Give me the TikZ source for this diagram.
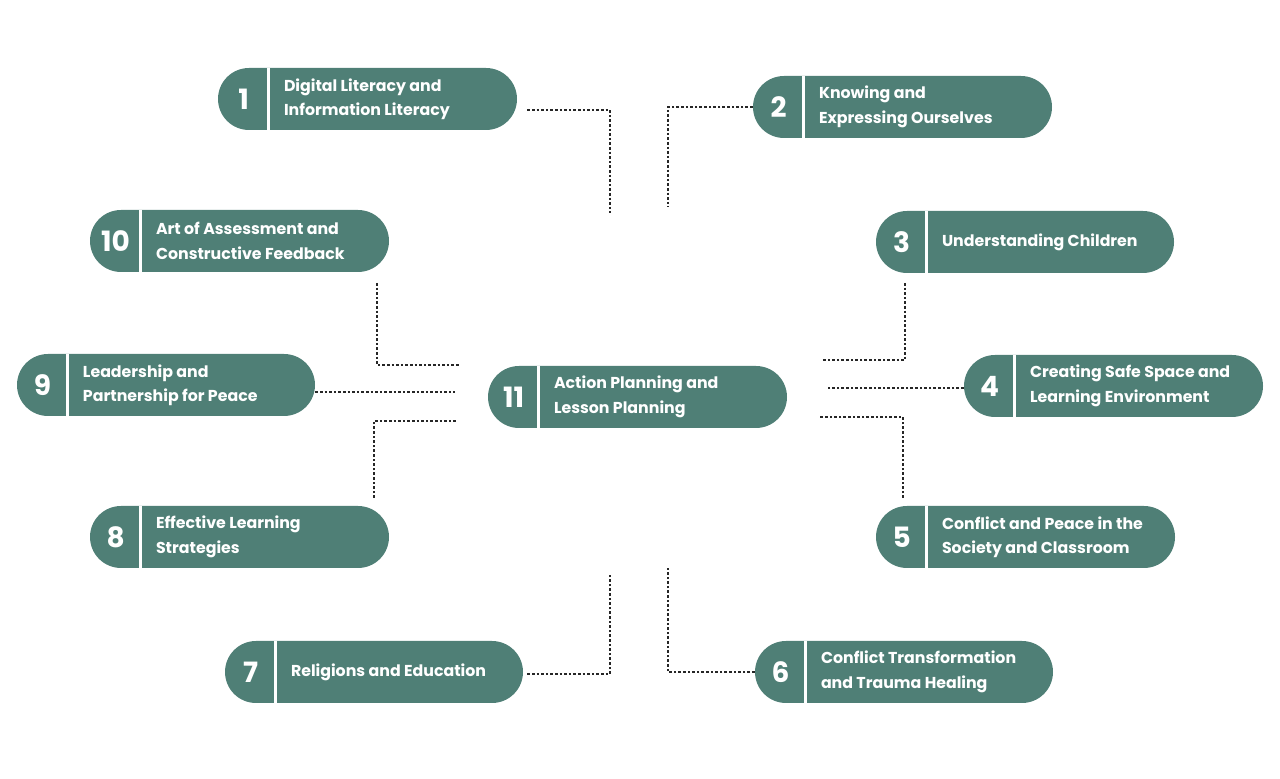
\documentclass[tikz,border=0pt]{standalone}
\usepackage{fontspec}
\setmainfont{Poppins}
\usetikzlibrary{positioning}
\definecolor{teal}{HTML}{4F7F76}
% one topic pill: name, left, top, right, number, text
\newcommand{\topic}[6]{%
  \node [pill, minimum width={(#4-#2)*0.5pt}] (#1) at ({(#2+#4)/2},#3+31) {};
  \node [num] (#1n) at ([xshift=13pt]#1.west) {#5};
  \draw [sep] ([xshift=25.5pt]#1.north west) -- ([xshift=25.5pt]#1.south west);
  \node [txt, anchor=west] (#1t) at ([xshift=33pt]#1.west) {#6};
}
\begin{document}
\begin{tikzpicture}[x=0.5pt,y=-0.5pt]
\tikzstyle{pill} = [fill=teal, rounded corners=15.5pt, minimum height=31pt, inner sep=0];
\tikzstyle{num} = [font=\fontsize{14}{14}\selectfont\bfseries, color=white, inner sep=0];
\tikzstyle{txt} = [font=\fontsize{7.9}{12.2}\selectfont\bfseries, color=white, align=left, inner sep=0];
\tikzstyle{sep} = [white, line width=1.2pt];
\tikzstyle{link} = [densely dotted, line width=1.3pt, black!85];
\useasboundingbox (0,0) rectangle (1280,779);
\topic{t1}{218}{68}{517}{1}{Digital Literacy and\\Information Literacy}
\topic{t2}{753}{76}{1052}{2}{Knowing and\\Expressing Ourselves}
\topic{t3}{876}{211}{1174}{3}{Understanding Children}
\topic{t4}{964}{355}{1263}{4}{Creating Safe Space and\\Learning Environment}
\topic{t5}{876}{506}{1175}{5}{Conflict and Peace in the\\Society and Classroom}
\topic{t6}{755}{641}{1053}{6}{Conflict Transformation\\and Trauma Healing}
\topic{t7}{225}{641}{523}{7}{Religions and Education}
\topic{t8}{90}{506}{389}{8}{Effective Learning\\Strategies}
\topic{t9}{17}{354}{315}{9}{Leadership and\\Partnership for Peace}
\topic{t10}{90}{210}{389}{10}{Art of Assessment and\\Constructive Feedback}
\topic{t11}{488}{366}{787}{11}{Action Planning and\\Lesson Planning}

\coordinate (e1) at (610,213);
\coordinate (e2) at (668,207);
\coordinate (e3) at (822,360);
\coordinate (e4) at (826,388);
\coordinate (e5) at (820,417);
\coordinate (e6) at (668,568);
\coordinate (e7) at (610,575);
\coordinate (e8) at (456,421);
\coordinate (e9) at (455,392);
\coordinate (e10) at (459,365);
\draw [link] ([xshift=5pt,yshift=-5.5pt]t1.east) -| (e1);
\draw [link] (t2.west) -| (e2);
\draw [link] (905,283) |- (e3);
\draw [link] ([yshift=-1pt]t4.west) -- (e4);
\draw [link] (903,498) |- (e5);
\draw [link] (t6.west) -| (e6);
\draw [link] ([xshift=2pt,yshift=-1pt]t7.east) -| (e7);
\draw [link] (374,498) |- (e8);
\draw [link] ([yshift=-3.5pt]t9.east) -- (e9);
\draw [link] (377,283) |- (e10);
\end{tikzpicture}
\end{document}
